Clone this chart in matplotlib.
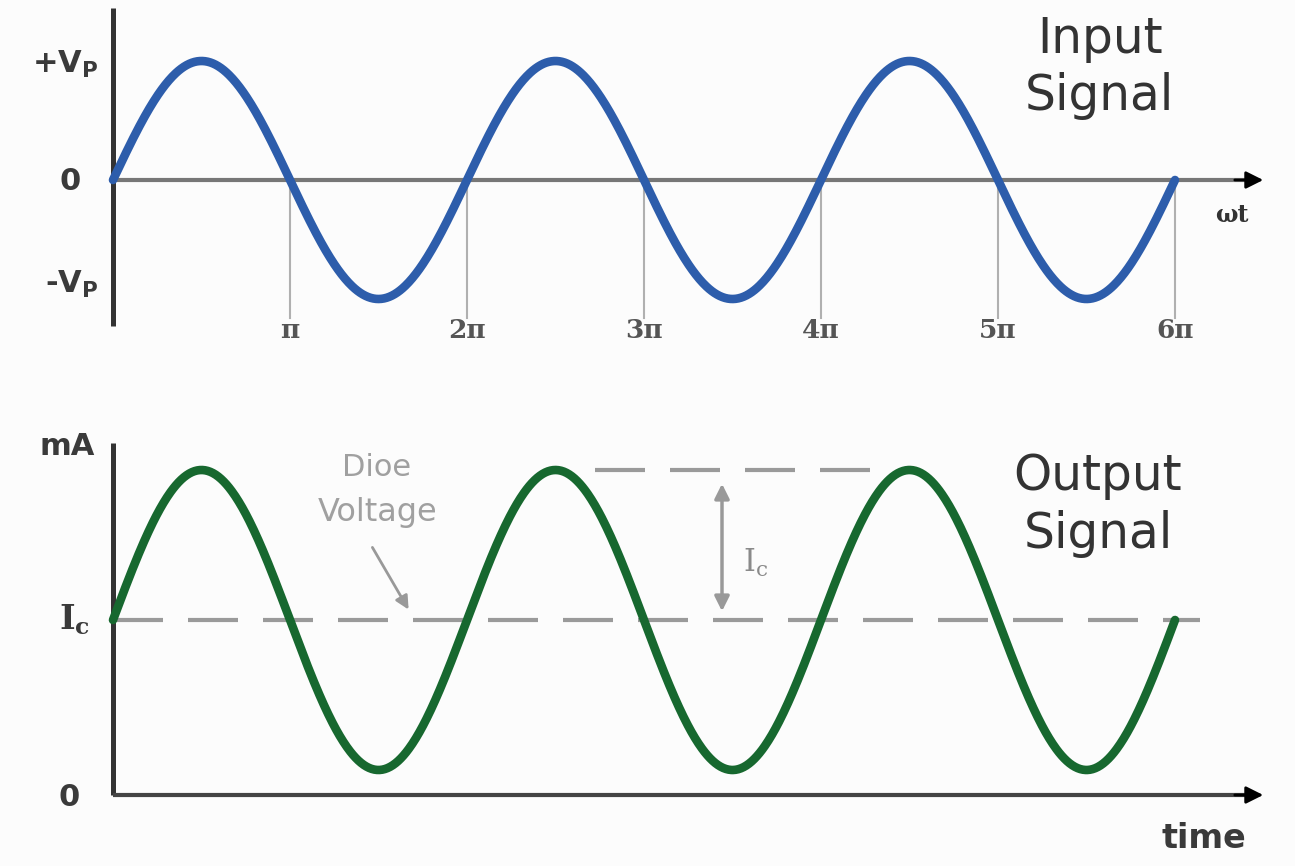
import numpy as np
import matplotlib
matplotlib.use("Agg")
import matplotlib.pyplot as plt

# ---- data ----
cycles = 3
period_labels = ["π", "2π", "3π", "4π", "5π", "6π"]
input_amplitude = 1.0          # +Vp
output_bias = 3.5              # Ic level (mA units)
output_amplitude = 3.0         # swing around Ic
n_points = 1200

x = np.linspace(0, 2 * np.pi * cycles, n_points)
y_in = input_amplitude * np.sin(x)
y_out = output_bias + output_amplitude * np.sin(x)

W, H = 1295, 866
fig = plt.figure(figsize=(W / 100, H / 100), dpi=100)
fig.patch.set_facecolor("#fcfcfc")

sx = 6 * np.pi / (1175 - 113)          # data units per pixel (x)
def px(p):
    return (p - 113) * sx

# ---------- top panel ----------
ax1 = fig.add_axes([0, 1 - 430 / H, 1, 430 / H])
ax1.set_xlim(px(0), px(W))
ax1.set_ylim(-(430 - 180) / 119, 180 / 119)
ax1.axis("off")
def ty(p):
    return (180 - p) / 119

ax1.plot([0, 0], [ty(8), ty(326)], color="#333333", lw=3.6, solid_capstyle="butt")
ax1.plot([0, px(1245)], [0, 0], color="#777777", lw=3.0, solid_capstyle="butt", zorder=2)
ax1.annotate("", xy=(px(1266), 0), xytext=(px(1232), 0),
             arrowprops=dict(arrowstyle="-|>", color="black", lw=2, mutation_scale=26))
for k, lab in enumerate(period_labels, start=1):
    ax1.plot([k * np.pi, k * np.pi], [0, ty(318)], color="#b0b0b0", lw=1.5, zorder=1)
    ax1.text(k * np.pi, ty(330), lab, family="DejaVu Serif", fontsize=19,
             fontweight="bold", color="#555555", ha="center", va="center")
ax1.plot(x, y_in, color="#2d5dab", lw=6.2, solid_capstyle="round", zorder=3)
ax1.text(px(1232), ty(215), "ωt", family="DejaVu Serif", fontsize=17,
         fontweight="bold", color="#333333", ha="center", va="center")

lab_kw = dict(fontsize=22, fontweight="bold", color="#3a3a3a", va="center")
ax1.text(px(98), ty(64), "+V$_\\mathregular{P}$", ha="right", **lab_kw)
ax1.text(px(70), ty(182), "0", ha="center", **lab_kw)
ax1.text(px(98), ty(284), "-V$_\\mathregular{P}$", ha="right", **lab_kw)

title_kw = dict(fontsize=35, color="#333333", ha="center", va="baseline")
ax1.text(px(1100), ty(53), "Input", **title_kw)
ax1.text(px(1099), ty(110), "Signal", **title_kw)

# ---------- bottom panel ----------
ax2 = fig.add_axes([0, 0, 1, 436 / H])
ax2.set_xlim(px(0), px(W))
ax2.set_ylim(-(866 - 795) / 50, (795 - 430) / 50)
ax2.axis("off")
def by(p):
    return (795 - p) / 50

ax2.plot([0, 0], [by(443), 0], color="#333333", lw=3.6, solid_capstyle="butt")
ax2.plot([0, px(1245)], [0, 0], color="#444444", lw=3.0, solid_capstyle="butt")
ax2.annotate("", xy=(px(1266), 0), xytext=(px(1232), 0),
             arrowprops=dict(arrowstyle="-|>", color="black", lw=2, mutation_scale=26))

dash_kw = dict(color="#9a9a9a", lw=3.0, dashes=(12, 6), zorder=1)
ax2.plot([0, px(1200)], [output_bias, output_bias], **dash_kw)
peak = output_bias + output_amplitude
ax2.plot([px(595), px(878)], [peak, peak], **dash_kw)

ax2.plot(x, y_out, color="#17682f", lw=6.2, solid_capstyle="round", zorder=3)

ax2.annotate("", xy=(px(722), by(481)), xytext=(px(722), by(614)),
             arrowprops=dict(arrowstyle="<|-|>", color="#999999", lw=2.5, mutation_scale=22))
ax2.text(px(743), by(563), "I$_\\mathregular{c}$", family="DejaVu Serif", fontsize=22,
         color="#8a8a8a", ha="left", va="center")

ax2.text(px(377), by(468), "Dioe", fontsize=22, color="#a0a0a0", ha="center", va="center")
ax2.text(px(378), by(513), "Voltage", fontsize=23, color="#a0a0a0", ha="center", va="center")
ax2.annotate("", xy=(px(410), by(612)), xytext=(px(371), by(545)),
             arrowprops=dict(arrowstyle="-|>", color="#999999", lw=2, mutation_scale=20))

ax2.text(px(67), by(447), "mA", ha="center", **lab_kw)
ax2.text(px(90), by(620), "I$_\\mathregular{c}$", family="DejaVu Serif", ha="right",
         fontsize=24, fontweight="bold", color="#3a3a3a", va="center")
ax2.text(px(69), by(798), "0", ha="center", **lab_kw)
ax2.text(px(1204), by(838), "time", ha="center", fontsize=24, fontweight="bold",
         color="#3a3a3a", va="center")

ax2.text(px(1098), by(490), "Output", **title_kw)
ax2.text(px(1098), by(548), "Signal", **title_kw)

fig.savefig("out.png", dpi=100, facecolor=fig.get_facecolor())
